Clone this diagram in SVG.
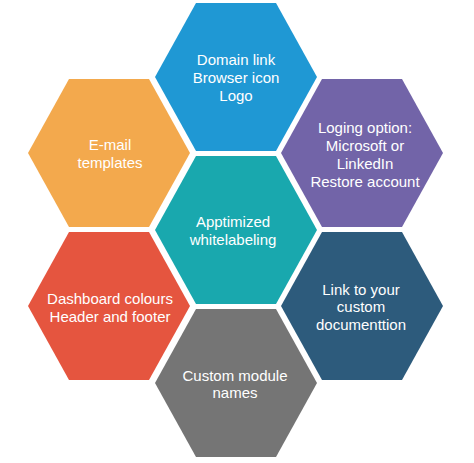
<svg xmlns="http://www.w3.org/2000/svg" width="474" height="463" viewBox="0 0 474 463">
<defs>
<style>
.hex{stroke:none}
.t{font-family:"Liberation Sans",Arial,sans-serif;font-size:15px;fill:#ffffff;text-anchor:middle}
</style>
<polygon id="hx" points="-81,0 -40,-74 40,-74 81,0 40,74 -40,74"/>
</defs>
<rect width="474" height="463" fill="#ffffff"/>
<g id="connectors"></g>
<g id="node-top" transform="translate(236,77)">
<use href="#hx" fill="#1f98d4"/>
<text class="t"><tspan x="0" y="-12">Domain link</tspan><tspan x="0" y="6">Browser icon</tspan><tspan x="0" y="24">Logo</tspan></text>
</g>
<g id="node-upper-left" transform="translate(109,153)">
<use href="#hx" fill="#f3a94d"/>
<text class="t"><tspan x="1" y="-3">E-mail</tspan><tspan x="1" y="15">templates</tspan></text>
</g>
<g id="node-upper-right" transform="translate(362,153)">
<use href="#hx" fill="#7264a8"/>
<text class="t"><tspan x="3" y="-20">Loging option:</tspan><tspan x="3" y="-2">Microsoft or</tspan><tspan x="3" y="16">LinkedIn</tspan><tspan x="3" y="34">Restore account</tspan></text>
</g>
<g id="node-center" transform="translate(236,230)">
<use href="#hx" fill="#19a8ae"/>
<text class="t"><tspan x="-3" y="-3">Apptimized</tspan><tspan x="-3" y="15">whitelabeling</tspan></text>
</g>
<g id="node-lower-left" transform="translate(109,306)">
<use href="#hx" fill="#e5553f"/>
<text class="t"><tspan x="1" y="-2">Dashboard colours</tspan><tspan x="1" y="16">Header and footer</tspan></text>
</g>
<g id="node-lower-right" transform="translate(362,306)">
<use href="#hx" fill="#2d5b7c"/>
<text class="t"><tspan x="-1" y="-11">Link to your</tspan><tspan x="-1" y="6">custom</tspan><tspan x="-1" y="24">documenttion</tspan></text>
</g>
<g id="node-bottom" transform="translate(236,383)">
<use href="#hx" fill="#757575"/>
<text class="t"><tspan x="-1" y="-2">Custom module</tspan><tspan x="-1" y="15">names</tspan></text>
</g>
</svg>
